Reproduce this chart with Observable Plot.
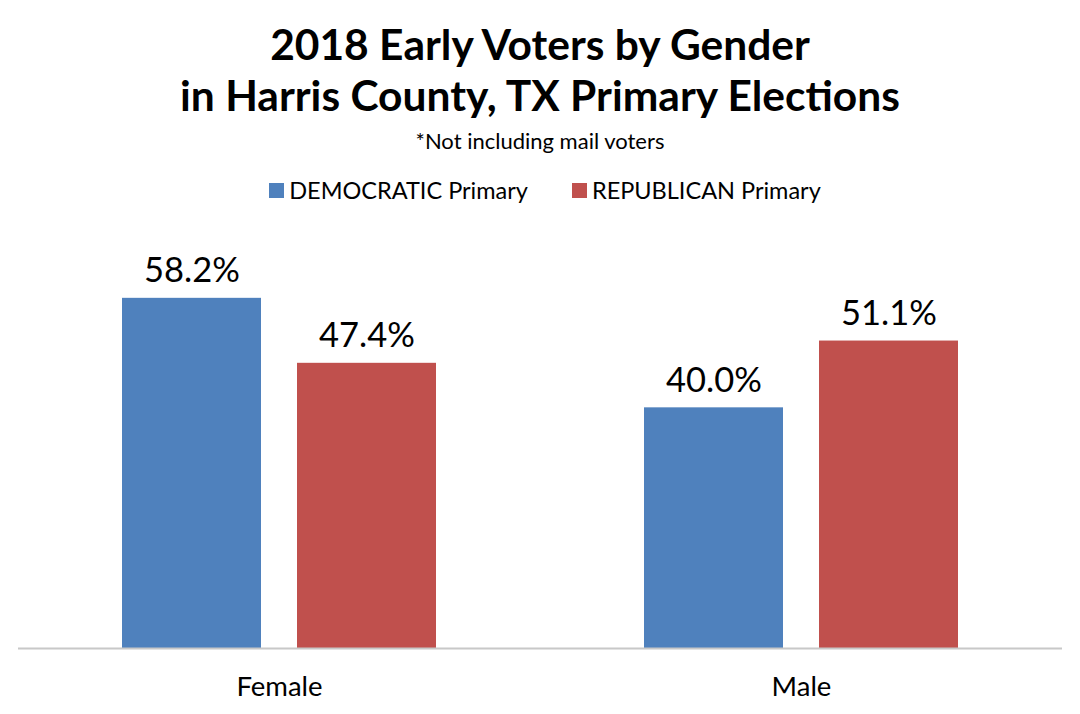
<!DOCTYPE html>
<html>
<head>
<meta charset="utf-8">
<script src="https://cdn.jsdelivr.net/npm/d3@7"></script>
<script src="https://cdn.jsdelivr.net/npm/@observablehq/plot@0.6"></script>
<style>
  html, body { margin: 0; padding: 0; background: #fff; }
  body { width: 1080px; height: 714px; overflow: hidden; font-family: Lato, "Open Sans", sans-serif; color: #000; }
  #head { height: 215px; text-align: center; overflow: hidden; }
  .t { font-weight: bold; font-size: 42.5px; line-height: 51px; height: 51px; white-space: nowrap; }
  #t1 { padding-top: 18px; }
  .sub { font-size: 22px; line-height: 28px; height: 28px; margin-top: 7px; }
  #legend { margin-top: 20px; height: 30px; line-height: 30px; font-size: 23.5px; display: flex; justify-content: center; padding-left: 10px; }
  .item { display: flex; align-items: center; }
  .sw { width: 15px; height: 15px; display: inline-block; margin-right: 5px; }
  svg { display: block; }
</style>
</head>
<body>
<div id="head">
  <div class="t" id="t1"></div>
  <div class="t" id="t2"></div>
  <div class="sub" id="sub"></div>
  <div id="legend"></div>
</div>
<div id="chart"></div>
<script>
const titleLines = ["2018 Early Voters by Gender", "in Harris County, TX Primary Elections"];
const subtitle = "*Not including mail voters";
const genders = ["Female", "Male"];
const seriesNames = ["DEMOCRATIC Primary", "REPUBLICAN Primary"];
const seriesColors = ["#4F81BD", "#C0504D"];
const democratic = [58.2, 40.0];
const republican = [47.4, 51.1];

document.getElementById("t1").textContent = titleLines[0];
document.getElementById("t2").textContent = titleLines[1];
document.getElementById("sub").textContent = subtitle;

const legend = document.getElementById("legend");
seriesNames.forEach((name, i) => {
  const it = document.createElement("div");
  it.className = "item";
  if (i > 0) it.style.marginLeft = "44px";
  const sw = document.createElement("span");
  sw.className = "sw";
  sw.style.background = seriesColors[i];
  it.appendChild(sw);
  it.appendChild(document.createTextNode(name));
  legend.appendChild(it);
});

const data = [];
genders.forEach((g, i) => {
  data.push({gender: g, series: seriesNames[0], value: democratic[i]});
  data.push({gender: g, series: seriesNames[1], value: republican[i]});
});

const chart = Plot.plot({
  width: 1080,
  height: 499,
  marginLeft: 18,
  marginRight: 18,
  marginTop: 72,
  marginBottom: 66,
  style: {fontFamily: "Lato, 'Open Sans', sans-serif", color: "#000", background: "#fff"},
  fx: {domain: genders, padding: 0, label: null},
  x: {domain: seriesNames, paddingInner: 0.2057, paddingOuter: 0.594, axis: null},
  y: {domain: [0, 60], axis: null},
  color: {domain: seriesNames, range: seriesColors},
  marks: [
    Plot.barY(data, {fx: "gender", x: "series", y: "value", fill: "series"}),
    Plot.ruleY([0], {stroke: "#C8C8C8", strokeWidth: 2}),
    Plot.text(data, {fx: "gender", x: "series", y: "value", text: d => d.value.toFixed(1) + "%", lineAnchor: "bottom", dy: -16, fontSize: 34.5, fill: "#000"}),
    Plot.axisFx({anchor: "bottom", tickSize: 0, tickPadding: 28, fontSize: 27.5, label: null})
  ]
});
document.getElementById("chart").appendChild(chart);
</script>
</body>
</html>
